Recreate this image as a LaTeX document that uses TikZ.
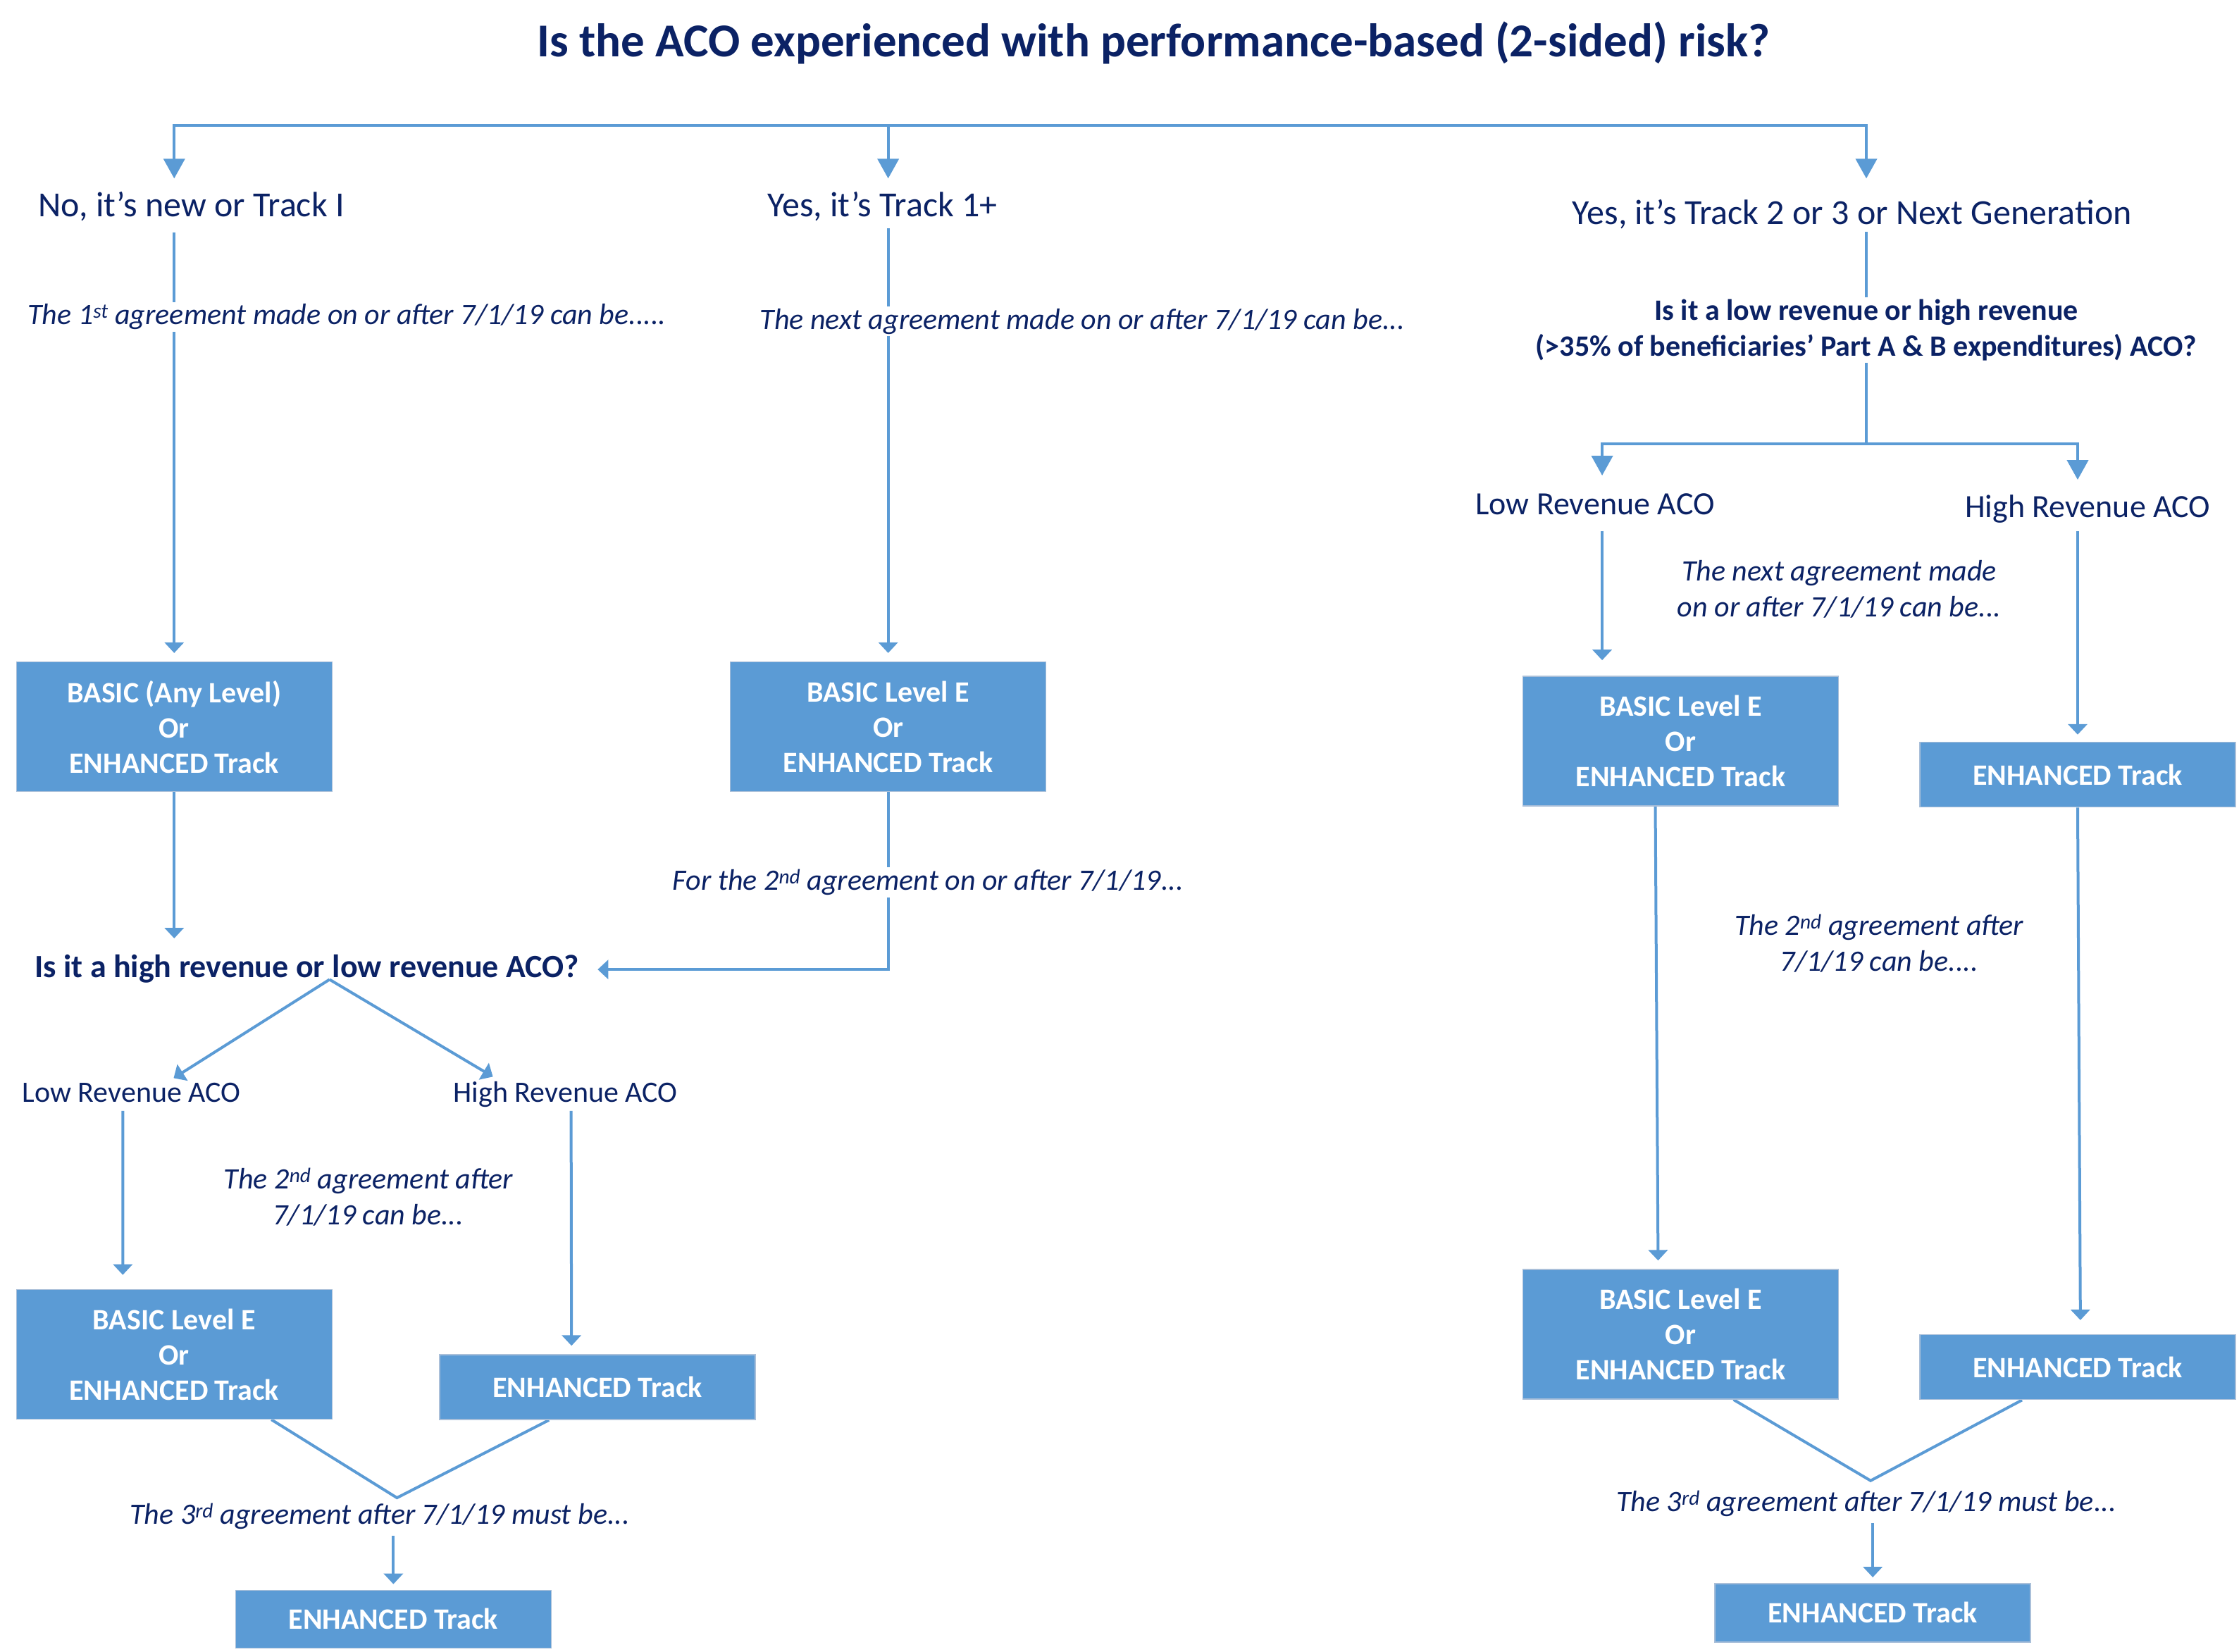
\documentclass[tikz,border=0pt]{standalone}
\usepackage{fontspec}
\setmainfont{Carlito}
\usetikzlibrary{arrows.meta,backgrounds,calc}
\definecolor{navy}{HTML}{0B2265}
\definecolor{boxblue}{HTML}{5B9BD5}
\definecolor{boxedge}{HTML}{A9BFD9}
\definecolor{linkblue}{HTML}{5B9BD5}
\begin{document}
\begin{tikzpicture}[x=2.027pt,y=-2.027pt,
  every node/.style={inner sep=0pt, text=navy},
  ttl/.style={font=\bfseries\fontsize{67}{80}\selectfont},
  lbl/.style={font=\fontsize{50}{60}\selectfont, text height=35pt, text depth=11pt},
  lblm/.style={font=\fontsize{46}{55}\selectfont, text height=32pt, text depth=10pt},
  lbls/.style={font=\fontsize{42}{50}\selectfont, text height=29pt, text depth=9pt},
  itl/.style={font=\itshape\fontsize{42}{51}\selectfont, fill=white, align=center, inner sep=3pt},
  qb/.style={font=\bfseries\fontsize{46}{55}\selectfont, text height=32pt, text depth=10pt},
  qbs/.style={font=\bfseries\fontsize{42}{51}\selectfont, fill=white, align=center, inner sep=3pt},
  box/.style={fill=boxblue, draw=boxedge, line width=1.5pt, text=white, font=\bfseries\fontsize{42}{50}\selectfont, align=center, minimum width=448pt},
  conn/.style={draw=linkblue, line width=4pt},
  big/.style={conn, -{Triangle[width=30pt,length=28pt]}},
  sml/.style={conn, -{Triangle[width=27pt,length=15pt]}},
]
\useasboundingbox (0,0) rectangle (1568,1157);

% title
\node[ttl] (title) at (808,30) {Is the ACO experienced with performance-based (2-sided) risk?};

\coordinate (t1) at (122,88);
\coordinate (t2) at (622,88);
\coordinate (t3) at (1307,88);

\node[lbl] (noL) at (134,146) {No, it’s new or Track I};
\node[lbl] (yes1) at (618,146) {Yes, it’s Track 1+};
\node[lbl] (yes2) at (1297,151) {Yes, it’s Track 2 or 3 or Next Generation};

\node[itl] (it1) at (243,222) {The 1\textsuperscript{st} agreement made on or after 7/1/19 can be.....};
\node[itl] (it2) at (758,225) {The next agreement made on or after 7/1/19 can be...};
\node[qbs] (q2) at (1307,231) {Is it a low revenue or high revenue\\(>35\% of beneficiaries’ Part A \& B expenditures) ACO?};

\coordinate (rb) at (1307,311);
\coordinate (rbl) at (1122,311);
\coordinate (rbr) at (1455,311);

\node[lblm] (lowR) at (1117,355) {Low Revenue ACO};
\node[lblm] (highR) at (1462,357) {High Revenue ACO};
\node[itl] (it3) at (1288,412.5) {The next agreement made\\on or after 7/1/19 can be...};

\node[box, minimum height=184pt] (B1) at (122,509) {BASIC (Any Level)\\Or\\ENHANCED Track};
\node[box, minimum height=184pt] (B2) at (622,509) {BASIC Level E\\Or\\ENHANCED Track};
\node[box, minimum height=184pt] (B3) at (1177,519) {BASIC Level E\\Or\\ENHANCED Track};
\node[box, minimum height=92pt] (B4) at (1455,542.5) {ENHANCED Track};

\node[itl] (it4) at (650,618) {For the 2\textsuperscript{nd} agreement on or after 7/1/19...};
\node[qb] (q1) at (215,679) {Is it a high revenue or low revenue ACO?};

\node[lbls] (lowL) at (92,767) {Low Revenue ACO};
\node[lbls] (highL) at (396,767) {High Revenue ACO};
\node[itl] (it5) at (258,838.5) {The 2\textsuperscript{nd} agreement after\\7/1/19 can be...};
\node[itl] (it6) at (1316,660.5) {The 2\textsuperscript{nd} agreement after\\7/1/19 can be....};

\node[box, minimum height=184pt] (B5) at (122,948.5) {BASIC Level E\\Or\\ENHANCED Track};
\node[box, minimum height=92pt] (B6) at (418.5,971.5) {ENHANCED Track};
\node[box, minimum height=184pt] (B7) at (1177,934.5) {BASIC Level E\\Or\\ENHANCED Track};
\node[box, minimum height=92pt] (B8) at (1455,957.5) {ENHANCED Track};

\node[itl] (it7) at (266,1062) {The 3\textsuperscript{rd} agreement after 7/1/19 must be...};
\node[itl] (it8) at (1307,1053) {The 3\textsuperscript{rd} agreement after 7/1/19 must be...};

\node[box, minimum height=82pt] (B9) at (275.5,1134) {ENHANCED Track};
\node[box, minimum height=83pt] (B10) at (1311.5,1129.5) {ENHANCED Track};

\coordinate (qs) at ([xshift=32pt,yshift=7pt]q1.south);
\coordinate (vL) at (278,1049);
\coordinate (vR) at (1310,1037);

\begin{scope}[on background layer]
\fill[white] (0,0) rectangle (1568,1157);
% top split
\draw[big] (t3) -- (t1) -- ++(0,37);
\draw[big] (t1) -- (t3) -- ++(0,37);
\draw[big] (t2) -- ++(0,37);
% left column
\draw[sml, shorten <=11pt, shorten >=12pt] (noL.south -| B1) -- (B1.north);
\draw[sml, shorten >=23pt] (B1.south) -- (q1.north -| B1);
% middle column
\draw[sml, shorten <=5pt, shorten >=12pt] (yes1.south -| B2) -- (B2.north);
\draw[sml, shorten >=26pt] (B2.south) |- (q1.east);
% right column
\draw[conn] (yes2.south -| rb) -- (rb);
\draw[big] (rbr) -- (rbl) -- ++(0,22);
\draw[big] (rbl) -- (rbr) -- ++(0,25);
\draw[sml, shorten <=13pt, shorten >=22pt] (lowR.south -| rbl) -- (B3.north -| rbl);
\draw[sml, shorten <=9pt, shorten >=10pt] (highR.south -| rbr) -- (B4.north -| rbr);
\draw[sml, shorten >=12pt] ([xshift=-36pt]B3.south) -- ([xshift=-32pt]B7.north);
\draw[sml, shorten >=20pt] (B4.south) -- ([xshift=4pt]B8.north);
% question split (left)
\draw[sml] (qs) -- ([xshift=60pt,yshift=5pt]lowL.north);
\draw[sml] (qs) -- ([xshift=-103pt,yshift=7pt]highL.north);
\draw[sml, shorten <=3pt, shorten >=20pt] ([xshift=-12pt]lowL.south) -- ([xshift=-73pt]B5.north);
\draw[sml, shorten <=3pt, shorten >=12pt] ([xshift=8pt]highL.south) -- ([xshift=-37pt]B6.north);
% merges
\draw[conn] ([xshift=138pt]B5.south) -- (vL) -- ([xshift=-69pt]B6.south);
\draw[sml, shorten <=6pt, shorten >=8pt] (it7.south -| B9) -- (B9.north);
\draw[conn] ([xshift=75pt]B7.south) -- (vR) -- ([xshift=-79pt]B8.south);
\draw[sml, shorten <=6pt, shorten >=8pt] (it8.south -| B10) -- (B10.north);
\end{scope}
\end{tikzpicture}
\end{document}
